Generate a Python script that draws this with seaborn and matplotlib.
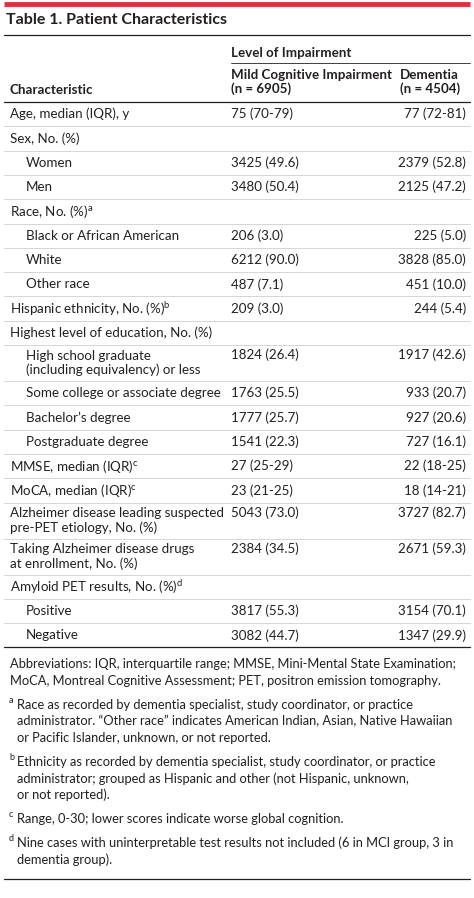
import matplotlib
matplotlib.use("Agg")
import matplotlib.pyplot as plt
import seaborn as sns

sns.set_theme(style="white")
plt.rcParams['font.family'] = ['Lato', 'DejaVu Sans']
plt.rcParams['mathtext.fontset'] = 'custom'
plt.rcParams['mathtext.rm'] = 'Lato'
plt.rcParams['mathtext.it'] = 'Lato'

title = "Table 1. Patient Characteristics"
characteristics = ["Age, median (IQR), y", "Sex, No. (%)", "Women", "Men",
                   "Race, No. (%)$^{a}$", "Black or African American", "White", "Other race",
                   "Hispanic ethnicity, No. (%)$^{b}$", "Highest level of education, No. (%)",
                   "High school graduate\n(including equivalency) or less",
                   "Some college or associate degree", "Bachelor\u2019s degree", "Postgraduate degree",
                   "MMSE, median (IQR)$^{c}$", "MoCA, median (IQR)$^{c}$",
                   "Alzheimer disease leading suspected\npre-PET etiology, No. (%)",
                   "Taking Alzheimer disease drugs\nat enrollment, No. (%)",
                   "Amyloid PET results, No. (%)$^{d}$", "Positive", "Negative"]
indent = [0, 0, 1, 1, 0, 1, 1, 1, 0, 0, 1, 1, 1, 1, 0, 0, 0, 0, 0, 1, 1]
mci = ["75 (70-79)", "", "3425 (49.6)", "3480 (50.4)", "", "206 (3.0)", "6212 (90.0)",
       "487 (7.1)", "209 (3.0)", "", "1824 (26.4)", "1763 (25.5)", "1777 (25.7)",
       "1541 (22.3)", "27 (25-29)", "23 (21-25)", "5043 (73.0)", "2384 (34.5)", "",
       "3817 (55.3)", "3082 (44.7)"]
dementia = ["77 (72-81)", "", "2379 (52.8)", "2125 (47.2)", "", "225 (5.0)", "3828 (85.0)",
            "451 (10.0)", "244 (5.4)", "", "1917 (42.6)", "933 (20.7)", "927 (20.6)",
            "727 (16.1)", "22 (18-25)", "18 (14-21)", "3727 (82.7)", "2671 (59.3)", "",
            "3154 (70.1)", "1347 (29.9)"]
footnotes = [
    ("", "Abbreviations: IQR, interquartile range; MMSE, Mini-Mental State Examination;\nMoCA, Montreal Cognitive Assessment; PET, positron emission tomography."),
    ("a", "Race as recorded by dementia specialist, study coordinator, or practice\nadministrator. \u201cOther race\u201d indicates American Indian, Asian, Native Hawaiian\nor Pacific Islander, unknown, or not reported."),
    ("b", "Ethnicity as recorded by dementia specialist, study coordinator, or practice\nadministrator; grouped as Hispanic and other (not Hispanic, unknown,\nor not reported)."),
    ("c", "Range, 0-30; lower scores indicate worse global cognition."),
    ("d", "Nine cases with uninterpretable test results not included (6 in MCI group, 3 in\ndementia group)."),
]

W, H = 474, 898
fig = plt.figure(figsize=(W / 100, H / 100), dpi=100)
ax = fig.add_axes([0, 0, 1, 1])
ax.set_xlim(0, W)
ax.set_ylim(H, 0)
ax.axis("off")

FS = 9.6
LH = 16.3
dark = "#231f20"
ax.plot([4, 470], [4, 4], color="#e0303a", lw=3.5, solid_capstyle="butt")
ax.text(6, 20, title, fontsize=11.5, fontweight="bold", va="center", color=dark)
ax.plot([4, 470], [35, 35], color=dark, lw=0.9)
ax.text(231, 53, "Level of Impairment", fontsize=FS, fontweight="bold", va="center", color=dark)
ax.plot([231, 470], [63, 63], color=dark, lw=0.6)
ax.text(231, 82, "Mild Cognitive Impairment\n(n = 6905)", fontsize=FS, fontweight="bold",
        va="center", color=dark, linespacing=1.15)
ax.text(400, 82, "Dementia\n(n = 4504)", fontsize=FS, fontweight="bold", va="center",
        color=dark, linespacing=1.15)
ax.text(10, 90, "Characteristic", fontsize=FS, fontweight="bold", va="center", color=dark)
ax.plot([4, 470], [102, 102], color=dark, lw=0.9)

y = 102
for name, ind, a, b in zip(characteristics, indent, mci, dementia):
    nl = name.count("\n") + 1
    h = 24.3 if nl == 1 else 36.0
    yc = y + h / 2
    ax.text(10 + 16 * ind, yc, name, fontsize=FS, va="center", color=dark, linespacing=1.15)
    ytop = yc - (nl - 1) * LH / 2
    if a:
        ax.text(231, ytop, a, fontsize=FS, va="center", color=dark)
    if b:
        ax.text(466, ytop, b, fontsize=FS, va="center", ha="right", color=dark)
    y += h
    if name != characteristics[-1]:
        ax.plot([4, 470], [y, y], color="#cfcfcf", lw=0.6)
ax.plot([4, 470], [y, y], color=dark, lw=0.9)

fy = y + 17
for letter, text in footnotes:
    lines = text.split("\n")
    x0 = 10
    if letter:
        ax.text(9, fy - 4, letter, fontsize=6.5, va="center", color=dark)
        x0 = 17
    for i, line in enumerate(lines):
        ax.text(x0, fy, line, fontsize=FS - 0.3, va="center", color=dark)
        fy += 16.5
    fy += 7.5
ax.plot([4, 470], [fy - 4, fy - 4], color=dark, lw=0.9)

fig.savefig("out.png", dpi=100, facecolor="white")
